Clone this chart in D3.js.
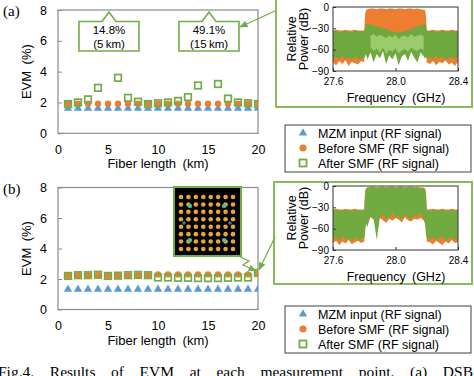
<!DOCTYPE html>
<html><head><meta charset="utf-8">
<script src="https://cdn.jsdelivr.net/npm/d3@7/dist/d3.min.js"></script>
<style>html,body{margin:0;padding:0;background:#fff;overflow:hidden}</style>
</head><body><svg id="c" width="474" height="376"></svg>
<script>
// ---------- data ----------
const fiberKm = [1,2,3,4,5,6,7,8,9,10,11,12,13,14,15,16,17,18,19,20];
const evmA_mzm    = [1.62,1.62,1.62,1.62,1.62,1.62,1.62,1.62,1.62,1.62,1.62,1.62,1.62,1.62,1.62,1.62,1.62,1.62,1.62,1.62];
const evmA_before = [1.92,1.92,1.92,1.92,1.92,1.92,1.92,1.92,1.92,1.92,1.92,1.92,1.92,1.92,1.92,1.92,1.92,1.92,1.92,1.92];
const evmA_after  = [1.9,2.0,2.2,2.95,14.8,3.6,2.3,2.05,1.9,1.95,2.0,2.1,2.35,3.1,49.1,3.2,2.25,2.0,1.95,1.9];
const evmB_mzm    = [1.32,1.32,1.32,1.32,1.32,1.32,1.32,1.32,1.32,1.32,1.32,1.32,1.32,1.32,1.32,1.32,1.32,1.32,1.32,1.32];
const evmB_before = [2.22,2.25,2.25,2.27,2.22,2.23,2.25,2.27,2.25,2.3,2.3,2.3,2.3,2.3,2.3,2.3,2.3,2.3,2.3,2.38];
const evmB_after  = [2.2,2.25,2.25,2.28,2.2,2.22,2.25,2.27,2.25,2.1,2.1,2.08,2.08,2.06,2.06,2.06,2.08,2.1,2.1,2.4];
const evmTicks = [0,2,4,6,8];
const kmTicks = [0,5,10,15,20];
const seriesNames = ["MZM input (RF signal)","Before SMF (RF signal)","After SMF (RF signal)"];

// spectra (relative power, dB)
const specFreq = [27.60,27.62,27.64,27.66,27.68,27.70,27.72,27.74,27.76,27.78,27.80,27.805,27.81,27.82,
  27.84,27.86,27.88,27.90,27.92,27.94,27.96,27.98,28.00,28.02,28.04,28.06,28.08,28.10,28.12,28.14,28.16,28.18,
  28.19,28.195,28.20,28.22,28.24,28.26,28.28,28.30,28.32,28.34,28.36,28.38,28.40];
const aOrgTop = [-33,-32,-33,-33,-32,-33,-33,-32,-33,-33,-33,-12,-5,-3,
  -2,-2,-3,-2,-2,-3,-2,-2,-3,-2,-2,-3,-2,-2,-3,-2,-3,-4, -5,-12,-33,
  -33,-32,-33,-33,-32,-33,-33,-32,-33,-33];
const aOrgBot = [-78,-82,-76,-80,-75,-83,-77,-79,-81,-76,-78,-40,-40,-40,
  -40,-40,-40,-40,-40,-40,-40,-40,-40,-40,-40,-40,-40,-40,-40,-40,-40,-40, -40,-40,-78,
  -80,-76,-82,-77,-79,-75,-81,-78,-83,-77];
const aGrnTop = [-34,-33,-35,-34,-33,-34,-35,-33,-34,-34,-34,-30,-25,-24,
  -25,-26,-27,-28,-30,-31,-33,-34,-35,-36,-35,-34,-33,-31,-29,-27,-26,-25, -24,-26,-34,
  -34,-33,-35,-34,-33,-34,-35,-33,-34,-34];
const aGrnBot = [-72,-70,-74,-69,-73,-71,-75,-70,-72,-74,-71,-70,-66,-74,
  -64,-78,-66,-72,-62,-80,-68,-74,-65,-82,-70,-66,-76,-63,-71,-78,-64,-69, -73,-70,-72,
  -71,-74,-69,-73,-70,-75,-72,-70,-74,-71];
const aLgtTop = [null,null,null,null,null,null,null,null,null,null,null,null,null,null,
  -40,-38,-42,-39,-41,-44,-40,-43,-39,-45,-41,-40,-43,-38,-42,-40,-39,-41, null,null,null,
  null,null,null,null,null,null,null,null,null,null];
const aLgtBot = [null,null,null,null,null,null,null,null,null,null,null,null,null,null,
  -56,-62,-58,-64,-57,-66,-60,-63,-58,-65,-61,-59,-63,-57,-60,-62,-58,-60, null,null,null,
  null,null,null,null,null,null,null,null,null,null];
const bOrgTop = [-33,-32,-33,-33,-32,-33,-33,-32,-33,-33,-33,-10,-4,-2,
  -1,-1,-2,-1,-1,-2,-1,-1,-2,-1,-1,-2,-1,-1,-2,-1,-2,-2, -4,-10,-33,
  -33,-32,-33,-33,-32,-33,-33,-32,-33,-33];
const bOrgBot = [-80,-77,-83,-78,-81,-76,-82,-79,-77,-80,-78,-60,-55,-50,
  -44,-47,-50,-45,-48,-52,-46,-49,-45,-47,-51,-44,-48,-50,-46,-47,-45,-48, -52,-60,-78,
  -79,-82,-77,-80,-83,-78,-81,-76,-80,-79];
const bGrnTop = [-34,-33,-35,-34,-33,-34,-35,-33,-34,-34,-34,-12,-4,-2,
  -2,-1,-2,-2,-1,-2,-2,-1,-2,-2,-1,-2,-2,-1,-2,-2,-3,-3, -5,-12,-34,
  -34,-33,-35,-34,-33,-34,-35,-33,-34,-34];
const bGrnBot = [-74,-72,-77,-71,-75,-73,-78,-72,-76,-74,-73,-66,-52,-58,
  -42,-46,-76,-44,-40,-48,-43,-38,-45,-41,-49,-39,-44,-47,-40,-43,-38,-45, -55,-68,-73,
  -75,-72,-76,-73,-71,-77,-74,-72,-76,-73];
const dbTicks = [0,-30,-60,-90];
const ghzTicks = [27.6,28.0,28.4];

// 64-QAM constellation (inset of b)
const qamLevels = [-7,-5,-3,-1,1,3,5,7];
const pilotCyan = [[-4.6,4.6],[4.6,4.6],[-4.6,-4.6],[4.6,-4.6]];
const pilotBlue = [[-6.2,0],[6.2,0]];

const captionText = "Fig.4. Results of EVM at each measurement point. (a) DSB";

// ---------- style ----------
const C_BLUE = "#5B9BD5", C_ORG = "#ED7D31", C_GRN = "#70AD47", C_LGRN = "#9CCB6E";
const FONT = "'Liberation Sans', Arial, sans-serif";

const svg = d3.select("#c");
svg.append("rect").attr("width",474).attr("height",376).attr("fill","#fff");
const defs = svg.append("defs");
defs.append("marker").attr("id","arr").attr("viewBox","0 0 10 10").attr("refX",9).attr("refY",5)
  .attr("markerWidth",7).attr("markerHeight",7).attr("orient","auto-start-reverse")
  .append("path").attr("d","M0,1 L10,5 L0,9 Z").attr("fill",C_GRN);

const X0 = 58, X1 = 258;
const triSym = d3.symbol().type(d3.symbolTriangle).size(30);

function panel(cfg) {
  const g = svg.append("g");
  const x = d3.scaleLinear().domain([0,20]).range([X0,X1]);
  const y = d3.scaleLinear().domain([0,8]).range([cfg.bottom,cfg.top]);
  const clipId = "clip" + cfg.id;
  defs.append("clipPath").attr("id",clipId).append("rect")
    .attr("x",X0).attr("y",cfg.top).attr("width",X1-X0).attr("height",cfg.bottom-cfg.top);
  g.append("rect").attr("x",X0).attr("y",cfg.top).attr("width",X1-X0).attr("height",cfg.bottom-cfg.top)
    .attr("fill","none").attr("stroke","#8c8c8c").attr("stroke-width",1.2);
  const ya = g.append("g").attr("transform",`translate(${X0},0)`)
    .call(d3.axisLeft(y).tickValues(evmTicks).tickSizeInner(-4).tickSizeOuter(0).tickPadding(11));
  ya.select(".domain").remove();
  ya.selectAll("line").attr("stroke","#8c8c8c");
  ya.selectAll("text").attr("font-family",FONT).attr("font-size",12.5).attr("fill","#000");
  const xa = g.append("g").attr("transform",`translate(0,${cfg.bottom})`)
    .call(d3.axisBottom(x).tickValues(kmTicks).tickSize(0).tickPadding(12));
  xa.select(".domain").remove();
  xa.selectAll("text").attr("font-family",FONT).attr("font-size",12.5).attr("fill","#000");
  g.append("text").attr("x",(X0+X1)/2).attr("y",cfg.bottom+35).attr("text-anchor","middle")
    .attr("font-family",FONT).attr("font-size",13).text("Fiber length\u2002(km)");
  g.append("text").attr("transform",`translate(31,${(cfg.top+cfg.bottom)/2}) rotate(-90)`)
    .attr("text-anchor","middle").attr("font-family",FONT).attr("font-size",13).text("EVM\u2002(%)");
  g.append("text").attr("x",3).attr("y",cfg.top+6).attr("font-family","'Liberation Serif', serif")
    .attr("font-size",15).text(cfg.label);
  const m = g.append("g").attr("clip-path",`url(#${clipId})`);
  m.selectAll(".tri").data(fiberKm).join("path")
    .attr("d",triSym).attr("fill",C_BLUE)
    .attr("transform",(d,i)=>`translate(${x(d)},${y(cfg.mzm[i])})`);
  m.selectAll(".cir").data(fiberKm).join("circle")
    .attr("cx",d=>x(d)).attr("cy",(d,i)=>y(cfg.before[i])).attr("r",3.2).attr("fill",C_ORG);
  m.selectAll(".sq").data(fiberKm).join("rect")
    .attr("x",d=>x(d)-3.3).attr("y",(d,i)=>y(cfg.after[i])-3.3).attr("width",6.6).attr("height",6.6)
    .attr("fill","none").attr("stroke",C_GRN).attr("stroke-width",1.7);
  return {x,y,g};
}

function legend(top) {
  const g = svg.append("g");
  g.append("rect").attr("x",285).attr("y",top).attr("width",186).attr("height",47)
    .attr("fill","#fff").attr("stroke","#404040").attr("stroke-width",1);
  seriesNames.forEach((s,i)=>{
    const cy = top + 8 + i*15;
    if (i===0) g.append("path").attr("d",triSym).attr("fill",C_BLUE).attr("transform",`translate(303,${cy})`);
    if (i===1) g.append("circle").attr("cx",303).attr("cy",cy).attr("r",3.6).attr("fill",C_ORG);
    if (i===2) g.append("rect").attr("x",299.5).attr("y",cy-3.5).attr("width",7).attr("height",7)
      .attr("fill","none").attr("stroke",C_GRN).attr("stroke-width",1.8);
    g.append("text").attr("x",318).attr("y",cy+4.5).attr("font-family",FONT).attr("font-size",12.5).text(s);
  });
}

function inset(cfg) {
  const g = svg.append("g");
  g.append("rect").attr("x",cfg.bx).attr("y",cfg.by).attr("width",cfg.bw).attr("height",cfg.bh)
    .attr("fill","#fff").attr("stroke","#8DB95E").attr("stroke-width",2);
  const fx = d3.scaleLinear().domain([27.6,28.4]).range([333,458]);
  const py = d3.scaleLinear().domain([-90,0]).range([cfg.pt+64,cfg.pt]);
  const clipId = "iclip"+cfg.id;
  defs.append("clipPath").attr("id",clipId).append("rect").attr("x",333).attr("y",cfg.pt).attr("width",125).attr("height",64);
  const a = g.append("g").attr("clip-path",`url(#${clipId})`);
  const mk = (top,bot)=>d3.area().defined((d,i)=>top[i]!==null).x(d=>fx(d)).y0((d,i)=>py(bot[i])).y1((d,i)=>py(top[i]));
  cfg.layers.forEach(L=>{
    a.append("path").datum(specFreq).attr("d",mk(L.top,L.bot)).attr("fill",L.color);
  });
  g.append("rect").attr("x",333).attr("y",cfg.pt).attr("width",125).attr("height",64)
    .attr("fill","none").attr("stroke","#333").attr("stroke-width",1);
  const ya = g.append("g").attr("transform","translate(333,0)")
    .call(d3.axisLeft(py).tickValues(dbTicks).tickSizeInner(-3).tickSizeOuter(0).tickPadding(4));
  ya.select(".domain").remove();
  ya.selectAll("line").attr("stroke","#333");
  ya.selectAll("text").attr("font-family",FONT).attr("font-size",10).attr("fill","#000");
  const xa = g.append("g").attr("transform",`translate(0,${cfg.pt+64})`)
    .call(d3.axisBottom(fx).tickValues(ghzTicks).tickSizeInner(-3).tickSizeOuter(0).tickPadding(7).tickFormat(d3.format(".1f")));
  xa.select(".domain").remove();
  xa.selectAll("line").attr("stroke","#333");
  xa.selectAll("text").attr("font-family",FONT).attr("font-size",10).attr("fill","#000");
  g.append("text").attr("x",396).attr("y",cfg.pt+95).attr("text-anchor","middle")
    .attr("font-family",FONT).attr("font-size",12.5).text("Frequency\u2002(GHz)");
  g.append("text").attr("transform",`translate(296,${cfg.pt+32}) rotate(-90)`).attr("text-anchor","middle")
    .attr("font-family",FONT).attr("font-size",12.5).text("Relative");
  g.append("text").attr("transform",`translate(308,${cfg.pt+32}) rotate(-90)`).attr("text-anchor","middle")
    .attr("font-family",FONT).attr("font-size",12.5).text("Power (dB)");
}

// ----- panel (a) -----
const pa = panel({id:"a",top:10,bottom:133.3,label:"(a)",mzm:evmA_mzm,before:evmA_before,after:evmA_after});
// callouts for off-scale points
fiberKm.forEach((km,i)=>{
  const v = evmA_after[i];
  if (v <= 8) return;
  const px = pa.x(km)+1, w = 60, top = 21.5, bot = 51, peak = 12, l = px - w/2, r = px + w/2;
  pa.g.append("path").attr("d",`M${l},${top}L${px-7},${top}L${px},${peak}L${px+7},${top}L${r},${top}L${r},${bot}L${l},${bot}Z`)
    .attr("fill","#fff").attr("stroke",C_GRN).attr("stroke-width",1.6);
  pa.g.append("text").attr("x",px).attr("y",34).attr("text-anchor","middle").attr("font-family",FONT).attr("font-size",11.5).text(v.toFixed(1)+"%");
  pa.g.append("text").attr("x",px).attr("y",47.5).attr("text-anchor","middle").attr("font-family",FONT).attr("font-size",11.5).text(`(${km}\u2009km)`);
});
legend(125);
inset({id:"a",bx:276,by:-1,bw:196,bh:108,pt:7,layers:[
  {top:aOrgTop,bot:aOrgBot,color:C_ORG},
  {top:aGrnTop,bot:aGrnBot,color:"#6FA83F"},
  {top:aLgtTop,bot:aLgtBot,color:C_LGRN}]});
svg.append("line").attr("x1",275).attr("y1",11).attr("x2",240).attr("y2",27)
  .attr("stroke",C_GRN).attr("stroke-width",1.2).attr("marker-end","url(#arr)");

// ----- panel (b) -----
const pb = panel({id:"b",top:187.5,bottom:309.5,label:"(b)",mzm:evmB_mzm,before:evmB_before,after:evmB_after});
legend(306);
inset({id:"b",bx:274,by:182,bw:198,bh:102,pt:186,layers:[
  {top:bOrgTop,bot:bOrgBot,color:C_ORG},
  {top:bGrnTop,bot:bGrnBot,color:"#72AA42"}]});
// constellation
const cg = svg.append("g");
cg.append("rect").attr("x",174).attr("y",187).attr("width",67).attr("height",69)
  .attr("fill","#000").attr("stroke",C_GRN).attr("stroke-width",2);
const ci = d3.scaleLinear().domain([-7,7]).range([181,233]);
const cq = d3.scaleLinear().domain([-7,7]).range([249,197]);
const grid = [];
qamLevels.forEach(q=>qamLevels.forEach(i=>grid.push([i,q])));
cg.selectAll(".qd").data(grid).join("circle").attr("cx",d=>ci(d[0])).attr("cy",d=>cq(d[1])).attr("r",2.3).attr("fill","#E8A33A");
cg.selectAll(".pc").data(pilotCyan).join("circle").attr("cx",d=>ci(d[0])).attr("cy",d=>cq(d[1])).attr("r",2.2).attr("fill","#3FC1B0");
cg.selectAll(".pb").data(pilotBlue).join("circle").attr("cx",d=>ci(d[0])).attr("cy",d=>cq(d[1])).attr("r",1.8).attr("fill","#3A6FD0");
// arrows to 20 km point
const p20 = [pb.x(20), pb.y(evmB_after[19])];
svg.append("polyline").attr("points",`236,255 249,261 243,265 ${p20[0]-2},${p20[1]-2}`)
  .attr("fill","none").attr("stroke",C_GRN).attr("stroke-width",1.2).attr("marker-end","url(#arr)");
svg.append("line").attr("x1",275).attr("y1",237).attr("x2",p20[0]+1).attr("y2",p20[1]-3)
  .attr("stroke",C_GRN).attr("stroke-width",1.2).attr("marker-end","url(#arr)");

// caption (cut off at bottom, as in the source figure) - justified by word spacing
const cap = svg.append("text").attr("x",-2).attr("y",377).attr("font-family","'Liberation Serif', serif")
  .attr("font-size",15.5).text(captionText);
const natural = cap.node().getComputedTextLength();
const gaps = captionText.split(" ").length - 1;
cap.attr("word-spacing", Math.max(0,(475 - natural)/gaps));
</script></body></html>
